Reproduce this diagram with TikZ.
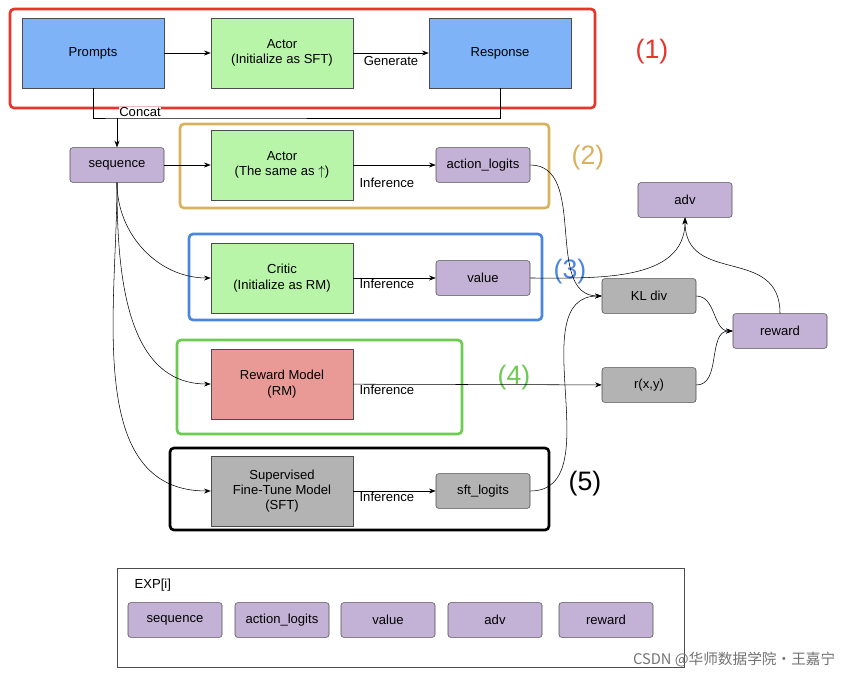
\documentclass[tikz,border=0pt]{standalone}
\usepackage{fontspec}
\setmainfont{Liberation Sans}
\newfontfamily\cjk{Noto Sans CJK SC}
\usetikzlibrary{arrows.meta}
\definecolor{cblue}{HTML}{7EB3F7}
\definecolor{cgreen}{HTML}{B8F5A8}
\definecolor{cpurple}{HTML}{C3B2D6}
\definecolor{cgray}{HTML}{B3B3B3}
\definecolor{cpink}{HTML}{EA9A96}
\definecolor{fred}{HTML}{E8352B}
\definecolor{forange}{HTML}{D9B25E}
\definecolor{fblue}{HTML}{4A86E0}
\definecolor{fgreen}{HTML}{6CCB52}
\tikzset{
 big/.style={draw=black!70,minimum width=106.5pt,minimum height=52.5pt,align=center,font=\fontsize{9.8}{11.5}\selectfont},
 sm/.style={draw=black!70,rounded corners=2pt,minimum width=70.5pt,minimum height=26pt,font=\fontsize{9.8}{11.5}\selectfont},
 frame/.style={line width=2pt,rounded corners=3pt},
 arr/.style={-{Stealth[length=5pt]},black},
 lab/.style={font=\fontsize{9.8}{11.5}\selectfont,fill=white,inner sep=1pt},
 inf/.style={font=\fontsize{9.8}{11.5}\selectfont,inner sep=1pt,anchor=north west},
 hand/.style={font=\fontsize{20}{22}\selectfont}
}
\begin{document}
\begin{tikzpicture}[x=0.75pt,y=-0.75pt]
\useasboundingbox[fill=white] (0,0) rectangle (852,679);
% frames
\draw[frame,draw=fred] (10,9) rectangle (595,108);
\draw[frame,draw=forange] (180,124) rectangle (549,208);
\draw[frame,draw=fblue] (189,234) rectangle (542,320);
\draw[frame,draw=fgreen] (177,340) rectangle (462,434);
\draw[frame,draw=black] (170,448) rectangle (549,530);
\node[hand,text=fred] at (652,52) {(1)};
\node[hand,text=forange] at (588,158) {(2)};
\node[hand,text=fblue] at (570,272) {(3)};
\node[hand,text=fgreen] at (514,378) {(4)};
\node[hand,text=black] at (585,484) {(5)};
% row 1
\node[big,fill=cblue] (pr) at (93,53) {Prompts};
\node[big,fill=cgreen] (a1) at (282,53) {Actor\\(Initialize as SFT)};
\node[big,fill=cblue] (rs) at (500,53) {Response};
\draw[arr] (pr) -- (a1);
\draw[arr] (a1) -- node[lab,below=1pt]{Generate} (rs);
\coordinate (cj) at (117,118);
\draw (pr.south) |- (cj) -| (rs.south);
\node[font=\fontsize{9.8}{11.5}\selectfont,fill=white,inner sep=0.5pt] at (140,112) {Concat};
\node[sm,fill=cpurple] (sq) at (117,165) {sequence};
\draw[arr] (cj) -- (sq);
% models
\node[big,fill=cgreen] (a2) at (282,165) {Actor\\(The same as $\uparrow$)};
\node[big,fill=cgreen] (cr) at (282,278) {Critic\\(Initialize as RM)};
\node[big,fill=cpink] (rm) at (282,384) {Reward Model\\(RM)};
\node[big,fill=cgray] (sft) at (282,491) {Supervised\\Fine-Tune Model\\(SFT)};
\node[sm,fill=cpurple] (al) at (483,165) {action\_logits};
\node[sm,fill=cpurple] (va) at (483,278) {value};
\node[sm,fill=cgray] (sl) at (483,491) {sft\_logits};
\node[sm,fill=cgray] (rxy) at (649,385) {r(x,y)};
\node[sm,fill=cgray] (kl) at (649,296) {KL div};
\node[sm,fill=cpurple] (adv) at (685,200) {adv};
\node[sm,fill=cpurple] (rw) at (780,331) {reward};
\draw[arr] (sq) -- (a2);
\draw[arr] (sq.south) to[out=-90,in=180] (cr.west);
\draw[arr] (sq.south) to[out=-90,in=180] (rm.west);
\draw[arr] (sq.south) to[out=-90,in=180] (sft.west);
\draw[arr] (a2) -- (al);
\draw[arr] (cr) -- (va);
\draw[arr] (sft) -- (sl);
\draw[arr] (rm) -- (rxy);
\node[inf] at (358,176) {Inference};
\node[inf] at (358,277) {Inference};
\node[inf] at (358,383) {Inference};
\node[inf] at (358,490) {Inference};
\draw[arr] (al.east) to[out=0,in=180] (kl.west);
\draw[arr] (sl.east) to[out=0,in=180] (kl.west);
\draw[arr] (va.east) to[out=0,in=-90] (adv.south);
\draw[arr] (kl.east) to[out=0,in=180] (rw.west);
\draw[arr] (rxy.east) to[out=0,in=180] (rw.west);
\draw[arr] (rw.north) to[out=90,in=-90,looseness=1.3] (adv.south);
% EXP
\draw[black!70] (117,568) rectangle (684,667);
\node[anchor=west,font=\fontsize{9.8}{11.5}\selectfont] at (130,585) {EXP[i]};
\node[sm,fill=cpurple] (e1) at (175,620) {sequence};
\node[sm,fill=cpurple] (e2) at (282,620) {action\_logits};
\node[sm,fill=cpurple] (e3) at (388,620) {value};
\node[sm,fill=cpurple] (e4) at (495,620) {adv};
\node[sm,fill=cpurple] (e5) at (606,620) {reward};
\node[anchor=east,text=black!55,font=\cjk\fontsize{11}{13}\selectfont] at (840,660) {CSDN @华师数据学院·王嘉宁};
\end{tikzpicture}
\end{document}
